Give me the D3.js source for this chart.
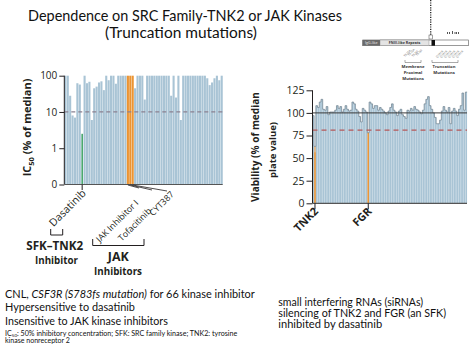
<!DOCTYPE html>
<html><head><meta charset="utf-8">
<script src="https://cdn.jsdelivr.net/npm/d3@7"></script>
<style>body{margin:0;background:#fff} svg{display:block}</style></head>
<body><svg id="c" width="474" height="355"></svg>
<script>
// ---------- DATA ----------
const leftCategories = d3.range(66).map(i => "K" + (i + 1));
leftCategories[7] = "Dasatinib";
leftCategories[26] = "JAK Inhibitor I";
leftCategories[27] = "Tofacitinib";
leftCategories[28] = "CYT387";
const leftValues = [100,100,28,8,7,62,57,2.5,100,62,
  68,6,45,50,65,70,40,100,75,100,
  100,60,100,100,100,100,100,100,100,45,
  100,100,100,22,100,100,100,100,100,100,
  100,100,100,100,28,100,25,100,6,100,
  100,100,100,100,100,100,100,100,100,85,
  55,65,85,100,75,100];
const leftTickValues = [0.1, 1, 10, 100];
const leftTickLabels = ["0", "1", "10", "100"];
const leftThreshold = 10;
const sfkInhibitors = ["Dasatinib"];
const jakInhibitors = ["JAK Inhibitor I", "Tofacitinib", "CYT387"];

const rightValues = [97,63,108,106,112,115,104,103,107,98,
  101,101,101,103,108,105,107,101,104,108,
  104,102,103,112,110,104,102,96,90,105,
  103,101,78,112,110,105,108,108,103,106,
  104,102,100,98,102,106,110,103,101,97,
  102,104,98,96,94,103,102,105,103,107,
  104,103,101,99,103,110,115,118,108,104,
  100,95,88,88,92,102,107,103,101,106,
  88,102,105,102,97,104,108,122,103,123];
const rightCategories = rightValues.map((d, i) => "G" + (i + 1));
rightCategories[1] = "TNK2";
rightCategories[32] = "FGR";
const rightTicks = [0, 25, 50, 75, 100, 125];
const rightReference = 100;
const rightThreshold = 81;

// ---------- SETUP ----------
const svg = d3.select("#c");
const FONT = "'Open Sans', 'Noto Sans', sans-serif";
const SLIDE = "Lato, 'Open Sans', sans-serif";
const BLUE = "#a9c4d5", ORANGE = "#eb9433", GREEN = "#2f9a5a", INK = "#231f20";

function fit(t, w) {
  const L = t.node().getComputedTextLength();
  if (L > 0) t.attr("font-size", parseFloat(t.attr("font-size")) * w / L);
  return t;
}

// ---------- TITLE ----------
fit(svg.append("text").attr("x", 185).attr("y", 21).attr("text-anchor", "middle")
  .attr("font-family", SLIDE).attr("font-size", 16).attr("fill", "#111")
  .text("Dependence on SRC Family-TNK2 or JAK Kinases"), 314);
fit(svg.append("text").attr("x", 181).attr("y", 37.5).attr("text-anchor", "middle")
  .attr("font-family", SLIDE).attr("font-size", 16).attr("fill", "#111")
  .text("(Truncation mutations)"), 152);

// ---------- LEFT CHART ----------
const lx = d3.scaleBand().domain(leftCategories).range([64.3, 222.7]).paddingInner(0.15);
const ly = d3.scaleLog().domain([0.1, 100]).range([184.5, 75.7]);
const lg = svg.append("g");
lg.selectAll("rect.b").data(leftValues).join("rect")
  .attr("x", (d, i) => {
    const c = leftCategories[i];
    return sfkInhibitors.includes(c) ? lx(c) + lx.bandwidth() / 2 - 0.7 : lx(c);
  })
  .attr("width", (d, i) => sfkInhibitors.includes(leftCategories[i]) ? 1.4 : lx.bandwidth() + 0.05)
  .attr("y", d => ly(d)).attr("height", d => ly(0.1) - ly(d))
  .attr("fill", (d, i) => {
    const c = leftCategories[i];
    return sfkInhibitors.includes(c) ? GREEN : jakInhibitors.includes(c) ? ORANGE : BLUE;
  });
lg.append("line").attr("x1", 64.3).attr("x2", 222.7)
  .attr("y1", ly(leftThreshold)).attr("y2", ly(leftThreshold))
  .attr("stroke", "#8a8191").attr("stroke-width", 1.2).attr("stroke-dasharray", "4,3");

const lAxis = lg.append("g").attr("transform", "translate(64.3,0)")
  .call(d3.axisLeft(ly).tickValues(leftTickValues).tickFormat((d, i) => leftTickLabels[i]).tickSize(5).tickPadding(2));
lAxis.select(".domain").attr("stroke", INK).attr("stroke-width", 1).attr("d", "M0,75.7V184.5");
lAxis.selectAll(".tick line").attr("stroke", INK);
lAxis.selectAll(".tick text").attr("font-family", FONT).attr("font-size", 10).attr("fill", INK);
lg.append("line").attr("x1", 64.3).attr("x2", 222.7).attr("y1", 184.5).attr("y2", 184.5)
  .attr("stroke", "#555").attr("stroke-width", 1);

// dasatinib tick and label
const dx = lx("Dasatinib") + lx.bandwidth() / 2;
lg.append("line").attr("x1", dx).attr("x2", dx).attr("y1", 184.5).attr("y2", 190).attr("stroke", INK);
fit(lg.append("text").attr("transform", `translate(${dx + 4.5},194) rotate(-45)`)
  .attr("text-anchor", "end").attr("font-family", FONT).attr("font-size", 9.5).attr("fill", INK).text("Dasatinib"), 47);

// JAK labels with leader lines
const jakEnds = [[139, 188], [152, 190], [167, 191]];
const jakAnchors = [[139, 203.5], [152, 211.5], [174.5, 195]];
jakInhibitors.forEach((c, i) => {
  const bx = lx(c) + lx.bandwidth() / 2;
  lg.append("polyline").attr("points", `${bx},185 ${jakEnds[i][0]},${jakEnds[i][1]}`)
    .attr("fill", "none").attr("stroke", INK).attr("stroke-width", 0.8);
  lg.append("text").attr("transform", `translate(${jakAnchors[i][0]},${jakAnchors[i][1]}) rotate(-45)`)
    .attr("text-anchor", "end").attr("font-family", FONT).attr("font-size", 8.8).attr("fill", INK).text(c);
});

// brackets
lg.append("path").attr("d", "M50.7,229V235H62.7V229").attr("fill", "none").attr("stroke", INK).attr("stroke-width", 1);
lg.append("path").attr("d", "M92.7,239V245.5H144V239").attr("fill", "none").attr("stroke", INK).attr("stroke-width", 1);
fit(lg.append("text").attr("x", 54.7).attr("y", 250).attr("text-anchor", "middle").attr("font-family", FONT)
  .attr("font-weight", "bold").attr("font-size", 11).attr("fill", INK).text("SFK\u2013TNK2"), 57);
fit(lg.append("text").attr("x", 56.5).attr("y", 263.5).attr("text-anchor", "middle").attr("font-family", FONT)
  .attr("font-weight", "bold").attr("font-size", 11).attr("fill", INK).text("Inhibitor"), 43);
fit(lg.append("text").attr("x", 118.3).attr("y", 261).attr("text-anchor", "middle").attr("font-family", FONT)
  .attr("font-weight", "bold").attr("font-size", 11).attr("fill", INK).text("JAK"), 21);
fit(lg.append("text").attr("x", 118).attr("y", 274.5).attr("text-anchor", "middle").attr("font-family", FONT)
  .attr("font-weight", "bold").attr("font-size", 11).attr("fill", INK).text("Inhibitors"), 48);

// left y label
const lyl = lg.append("text").attr("transform", "translate(31,127.5) rotate(-90)").attr("text-anchor", "middle")
  .attr("font-family", FONT).attr("font-weight", "bold").attr("font-size", 11).attr("fill", INK);
lyl.append("tspan").text("IC");
lyl.append("tspan").attr("font-size", 7.5).attr("dy", 2.5).text("50");
lyl.append("tspan").attr("dy", -2.5).text(" (% of median)");

// ---------- RIGHT CHART ----------
const rx = d3.scaleBand().domain(rightCategories).range([312.5, 467]).paddingInner(0.12);
const ry = d3.scaleLinear().domain([0, 125]).range([203.3, 90.3]);
const rg = svg.append("g");
rg.selectAll("rect").data(rightValues).join("rect")
  .attr("x", (d, i) => rx(rightCategories[i])).attr("width", rx.bandwidth() + 0.05)
  .attr("y", d => ry(d)).attr("height", d => ry(0) - ry(d))
  .attr("fill", (d, i) => (rightCategories[i] === "TNK2" || rightCategories[i] === "FGR") ? "#d9a56a" : BLUE);
["TNK2", "FGR"].forEach(c => {
  const i = rightCategories.indexOf(c);
  const cx = rx(c) + rx.bandwidth() / 2;
  rg.append("line").attr("x1", cx).attr("x2", cx).attr("y1", ry(0)).attr("y2", ry(rightValues[i]) + (c === "TNK2" ? 6 : 0))
    .attr("stroke", ORANGE).attr("stroke-width", 1.2);
});
let pth = "";
rightValues.forEach((v, i) => {
  const x0 = rx(rightCategories[i]) - rx.step() * rx.paddingInner() / 2, x1 = x0 + rx.step();
  pth += (i === 0 ? `M${x0},${ry(v)}` : `V${ry(v)}`) + `H${x1}`;
});
rg.append("path").attr("d", pth).attr("fill", "none").attr("stroke", "#6d7f8c").attr("stroke-width", 0.7);

rg.append("line").attr("x1", 312.5).attr("x2", 467).attr("y1", ry(rightReference)).attr("y2", ry(rightReference))
  .attr("stroke", "#3a3a3a").attr("stroke-width", 1);
rg.append("line").attr("x1", 312.5).attr("x2", 467).attr("y1", ry(rightThreshold)).attr("y2", ry(rightThreshold))
  .attr("stroke", "#b5585a").attr("stroke-width", 1.1).attr("stroke-dasharray", "5,4");

const rAxis = rg.append("g").attr("transform", "translate(312.5,0)")
  .call(d3.axisLeft(ry).tickValues(rightTicks).tickSize(6).tickPadding(2));
rAxis.select(".domain").attr("stroke", INK).attr("d", "M0,90.3V203.3");
rAxis.selectAll(".tick line").attr("stroke", INK);
rAxis.selectAll(".tick text").attr("font-family", FONT).attr("font-size", 10.5).attr("fill", INK);
rg.append("line").attr("x1", 312.5).attr("x2", 467).attr("y1", 203.3).attr("y2", 203.3).attr("stroke", "#555").attr("stroke-width", 1.2);

["TNK2", "FGR"].forEach(c => {
  const cx = rx(c) + rx.bandwidth() / 2;
  rg.append("line").attr("x1", cx).attr("x2", cx).attr("y1", 203.3).attr("y2", 209).attr("stroke", INK).attr("stroke-width", 1);
  rg.append("text").attr("transform", `translate(${cx + 4},212) rotate(-45)`).attr("text-anchor", "end")
    .attr("font-family", FONT).attr("font-weight", "bold").attr("font-size", 11).attr("fill", INK).text(c);
});

fit(rg.append("text").attr("transform", "translate(259,147) rotate(-90)").attr("text-anchor", "middle")
  .attr("font-family", FONT).attr("font-weight", "bold").attr("font-size", 11).attr("fill", INK)
  .text("Viability (% of median"), 110);
fit(rg.append("text").attr("transform", "translate(276,150) rotate(-90)").attr("text-anchor", "middle")
  .attr("font-family", FONT).attr("font-weight", "bold").attr("font-size", 11).attr("fill", INK)
  .text("plate value)"), 56);

// ---------- PROTEIN SCHEMATIC ----------
const pg = svg.append("g");
pg.append("line").attr("x1", 430.7).attr("x2", 430.7).attr("y1", 0).attr("y2", 35)
  .attr("stroke", "#222").attr("stroke-width", 1.3).attr("stroke-dasharray", "1.2,1.2");
pg.append("rect").attr("x", 429).attr("y", 35).attr("width", 3.4).attr("height", 4).attr("fill", "none").attr("stroke", "#444").attr("stroke-width", 0.5);
pg.append("rect").attr("x", 362.7).attr("y", 40).attr("width", 105.6).attr("height", 5.7).attr("fill", "#fff").attr("stroke", "#555").attr("stroke-width", 0.6);
pg.append("rect").attr("x", 362.7).attr("y", 40).attr("width", 17.3).attr("height", 5.7).attr("fill", "#6a6a6a");
pg.append("rect").attr("x", 380).attr("y", 40).attr("width", 49).attr("height", 5.7).attr("fill", "#e4e4e4").attr("stroke", "#777").attr("stroke-width", 0.4);
pg.append("rect").attr("x", 431.5).attr("y", 40).attr("width", 3.5).attr("height", 5.7).attr("fill", "#111");
pg.append("text").attr("x", 371.3).attr("y", 44.2).attr("text-anchor", "middle").attr("font-family", FONT).attr("font-size", 3.6).attr("fill", "#eee").text("IgG-like");
pg.append("text").attr("x", 404.5).attr("y", 44.2).attr("text-anchor", "middle").attr("font-family", FONT).attr("font-weight", "bold").attr("font-size", 3.6).attr("fill", "#333").text("FNIII-like Repeats");
[[447,2],[449,2],[452,3],[454.5,2],[456,2],[458,2]].forEach(m => pg.append("rect").attr("x", m[0]).attr("y", 34 - m[1]).attr("width", 1).attr("height", m[1]).attr("fill", "#555"));
[405, 409, 413, 417].forEach((x, i) => pg.append("text").attr("transform", `translate(${x},${57 - i % 2}) rotate(-45)`).attr("font-family", FONT).attr("font-size", 3).attr("fill", "#666").text(i < 2 ? "T615A" : "T618I"));
[437, 441, 445, 449, 453, 457].forEach(x => pg.append("text").attr("transform", `translate(${x},58) rotate(-45)`).attr("font-family", FONT).attr("font-size", 3).attr("fill", "#666").text("Q741X"));
pg.append("path").attr("d", "M405,60V62.5H421V60").attr("fill", "none").attr("stroke", "#555").attr("stroke-width", 0.5);
pg.append("path").attr("d", "M432,60V62.5H458V60").attr("fill", "none").attr("stroke", "#555").attr("stroke-width", 0.5);
["Membrane", "Proximal", "Mutations"].forEach((t, i) => pg.append("text").attr("x", 413).attr("y", 68 + i * 6).attr("text-anchor", "middle")
  .attr("font-family", FONT).attr("font-weight", "bold").attr("font-size", 4.2).attr("fill", "#333").text(t));
["Truncation", "Mutations"].forEach((t, i) => pg.append("text").attr("x", 444).attr("y", 68 + i * 6).attr("text-anchor", "middle")
  .attr("font-family", FONT).attr("font-weight", "bold").attr("font-size", 4.2).attr("fill", "#333").text(t));

// ---------- BOTTOM TEXT ----------
const bt = svg.append("g").attr("font-family", SLIDE).attr("fill", "#111");
const l1 = bt.append("text").attr("x", 5).attr("y", 298).attr("font-size", 12);
l1.append("tspan").text("CNL, ");
l1.append("tspan").attr("font-style", "italic").text("CSF3R (S783fs mutation)");
l1.append("tspan").text(" for 66 kinase inhibitor");
fit(l1, 250);
fit(bt.append("text").attr("x", 5).attr("y", 311).attr("font-size", 12).text("Hypersensitive to dasatinib"), 130);
fit(bt.append("text").attr("x", 5).attr("y", 324.5).attr("font-size", 12).text("Insensitive to JAK kinase inhibitors"), 163);
const s1 = bt.append("text").attr("x", 5).attr("y", 335.5).attr("font-size", 6.5);
s1.append("tspan").text("IC");
s1.append("tspan").attr("font-size", 4.5).attr("dy", 1.5).text("50");
s1.append("tspan").attr("dy", -1.5).text(": 50% inhibitory concentration; SFK: SRC family kinase; TNK2: tyrosine");
fit(s1, 233);
fit(bt.append("text").attr("x", 5).attr("y", 343).attr("font-size", 6.5).text("kinase nonreceptor 2"), 65);
fit(bt.append("text").attr("x", 278.3).attr("y", 305.5).attr("font-size", 12).text("small interfering RNAs (siRNAs)"), 145);
fit(bt.append("text").attr("x", 278.3).attr("y", 316.5).attr("font-size", 12).text("silencing of TNK2 and FGR (an SFK)"), 168);
fit(bt.append("text").attr("x", 278.3).attr("y", 327.5).attr("font-size", 12).text("inhibited by dasatinib"), 104);
</script>
</body></html>
